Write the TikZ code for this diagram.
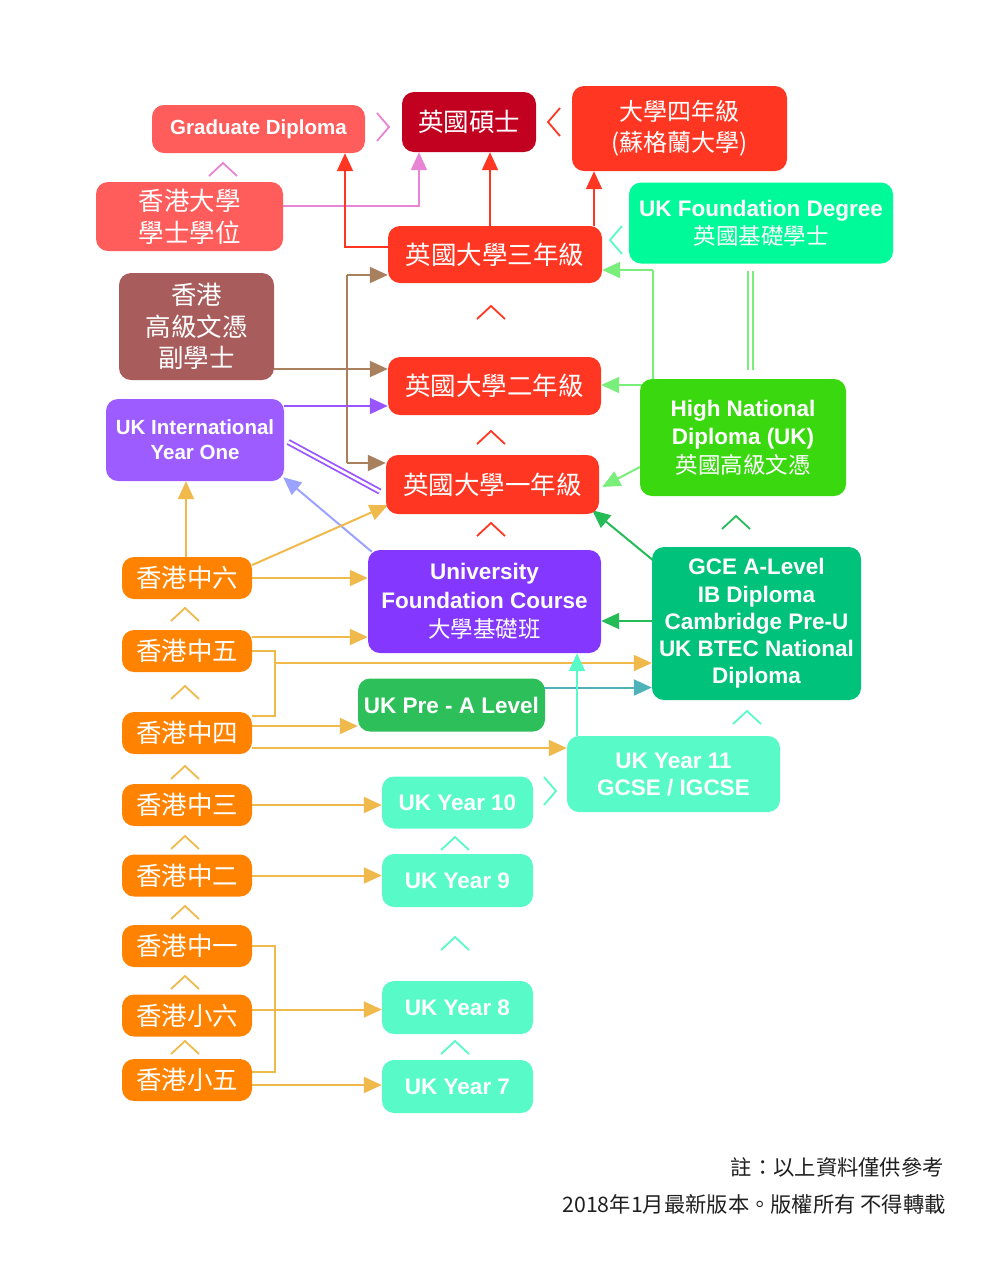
\documentclass[tikz,border=0pt]{standalone}
\usepackage{fontspec}
\setmainfont{Liberation Sans}
\newfontfamily\cjk{Noto Sans CJK TC}
\usetikzlibrary{arrows.meta}
\definecolor{cGD}{HTML}{FF5C5C}
\definecolor{cMS}{HTML}{C2001F}
\definecolor{cRD}{HTML}{FF3622}
\definecolor{cFD}{HTML}{00FA9A}
\definecolor{cHK}{HTML}{A85C5C}
\definecolor{cIY}{HTML}{9D5CFF}
\definecolor{cHN}{HTML}{3AD80F}
\definecolor{cUF}{HTML}{8438FF}
\definecolor{cGC}{HTML}{00C27A}
\definecolor{cPA}{HTML}{2DBF5A}
\definecolor{cMT}{HTML}{58FBC8}
\definecolor{cOR}{HTML}{FF8300}
\definecolor{lOR}{HTML}{F0B94B}
\definecolor{lPK}{HTML}{E884D4}
\definecolor{lBR}{HTML}{A8805E}
\definecolor{lPU}{HTML}{9955FF}
\definecolor{lLV}{HTML}{9AA3FF}
\definecolor{lTL}{HTML}{4DB3B8}
\definecolor{lGN}{HTML}{24BC57}
\definecolor{lLG}{HTML}{7AEE7A}
\newcommand\zhs[1]{{\cjk\mdseries #1}}
\newcommand\ENf[2]{\fontsize{#1}{#2}\selectfont\bfseries}
\newcommand\ZHf[2]{\fontsize{#1}{#2}\selectfont\cjk}
\newcommand\upch[3]{\draw[#3,line width=1.8pt] (#1-14,#2+13) -- (#1,#2) -- (#1+14,#2+13);}
\newcommand\rtch[3]{\draw[#3,line width=1.8pt] (#1-12,#2-14) -- (#1,#2) -- (#1-12,#2+14);}
\newcommand\ltch[3]{\draw[#3,line width=1.8pt] (#1+12,#2-14) -- (#1,#2) -- (#1+12,#2+14);}
\pgfdeclarelayer{bg}
\pgfsetlayers{bg,main}
\begin{document}
\begin{tikzpicture}[x=1pt,y=-1pt,
  bx/.style n args={3}{fill=#1, minimum width=#2, minimum height=#3, rounded corners=12pt, inner sep=0pt, align=center, text=white},
  cn/.style={line width=2pt, color=#1},
  ca/.style={line width=2pt, color=#1, -{Triangle[length=18pt,width=16pt]}},
  dbl/.style={draw=#1, line width=1.8pt, double=white, double distance=2.6pt}]
\useasboundingbox (0,0) rectangle (985,1262);

% boxes
\node[bx={cGD}{213}{48}, font=\ENf{20.5}{25}] (gd) at (258.5,129) {Graduate Diploma};
\node[bx={cMS}{134}{60}, font=\ZHf{25.5}{32}] (ms) at (469,122) {英國碩士};
\node[bx={cRD}{215}{85}, font=\ZHf{24}{31}] (y4) at (679.5,128.5) {大學四年級\\(蘇格蘭大學)};
\node[bx={cGD}{187}{69}, font=\ZHf{25.5}{32}] (hkd) at (189.5,216.5) {香港大學\\學士學位};
\node[bx={cRD}{214}{57}, font=\ZHf{25.5}{32}] (y3) at (495,254.5) {英國大學三年級};
\node[bx={cFD}{264}{81}, font=\ENf{22.5}{28}] (ukfd) at (761,223) {UK Foundation Degree\\\zhs{英國基礎學士}};
\node[bx={cHK}{155}{107}, font=\ZHf{25.5}{31.5}] (hkhd) at (196.5,326.5) {香港\\高級文憑\\副學士};
\node[bx={cRD}{213}{58}, font=\ZHf{25.5}{32}] (y2) at (494.5,386) {英國大學二年級};
\node[bx={cIY}{178}{82}, font=\ENf{20.5}{25}] (ukiyo) at (195,440) {UK International\\Year One};
\node[bx={cHN}{206}{117}, font=\ENf{22.5}{28.5}] (hnd) at (743,437.5) {High National\\Diploma (UK)\\\zhs{英國高級文憑}};
\node[bx={cRD}{213}{59}, font=\ZHf{25.5}{32}] (y1) at (492.5,484.5) {英國大學一年級};
\node[bx={cUF}{233}{103}, font=\ENf{22.5}{29}] (ufc) at (484.5,601.5) {University\\Foundation Course\\\zhs{大學基礎班}};
\node[bx={cGC}{209}{153}, font=\ENf{22.5}{27.3}] (gce) at (756.5,623.5) {GCE A-Level\\IB Diploma\\Cambridge Pre-U\\UK BTEC National\\Diploma};
\node[bx={cPA}{187}{53}, font=\ENf{22.5}{27}] (prea) at (451.5,705) {UK Pre - A Level};
\node[bx={cMT}{213}{76}, font=\ENf{22.5}{27}] (yr11) at (673.5,774) {UK Year 11\\GCSE / IGCSE};
\node[bx={cMT}{151}{52}, font=\ENf{22.5}{27}] (yr10) at (457.5,802.5) {UK Year 10};
\node[bx={cMT}{151}{53}, font=\ENf{22.5}{27}] (yr9) at (457.5,880.5) {UK Year 9};
\node[bx={cMT}{151}{53}, font=\ENf{22.5}{27}] (yr8) at (457.5,1007.5) {UK Year 8};
\node[bx={cMT}{151}{53}, font=\ENf{22.5}{27}] (yr7) at (457.5,1086.5) {UK Year 7};
\node[bx={cOR}{130}{42}, font=\ZHf{25.5}{32}] (c6) at (187,578) {香港中六};
\node[bx={cOR}{130}{42}, font=\ZHf{25.5}{32}] (c5) at (187,651) {香港中五};
\node[bx={cOR}{130}{42}, font=\ZHf{25.5}{32}] (c4) at (187,733) {香港中四};
\node[bx={cOR}{130}{42}, font=\ZHf{25.5}{32}] (c3) at (187,805) {香港中三};
\node[bx={cOR}{130}{42}, font=\ZHf{25.5}{32}] (c2) at (187,875.5) {香港中二};
\node[bx={cOR}{130}{42}, font=\ZHf{25.5}{32}] (c1) at (187,946) {香港中一};
\node[bx={cOR}{130}{42}, font=\ZHf{25.5}{32}] (s6) at (187,1015.5) {香港小六};
\node[bx={cOR}{130}{42}, font=\ZHf{25.5}{32}] (s5) at (187,1080) {香港小五};

% footnote
\node[anchor=east, inner sep=0pt, text=black!88, font=\ZHf{21.3}{26}] (n1) at (944,1167) {註：以上資料僅供參考};
\node[anchor=east, inner sep=0pt, text=black!88, font=\ZHf{21.3}{26}] (n2) at (946,1204) {2018年1月最新版本。版權所有 不得轉載};

% coordinates for junctions
\coordinate (bt) at (347,275);
\coordinate (bb) at (347,463);
\coordinate (ga) at (653,270);
\coordinate (gb) at (653,385);
\coordinate (ka) at (275,651);
\coordinate (kb) at (275,716);
\coordinate (kc) at (275,663);
\coordinate (ma) at (275,946);
\coordinate (mb) at (275,1072);

\begin{pgfonlayer}{bg}
% pink
\draw[ca=lPK] ([yshift=10.5pt]hkd.east) -| ([xshift=-50pt]ms.south);
% red
\draw[ca=cRD] ([yshift=7.5pt]y3.west) -| ([xshift=86.5pt]gd.south);
\draw[ca=cRD] ([xshift=-5pt]y3.north) -- ([xshift=21pt]ms.south);
\draw[ca=cRD] ([xshift=99pt]y3.north) -- ([xshift=-85.5pt]y4.south);
% brown
\draw[ca=lBR] ([yshift=-42.5pt]hkhd.east) -- ([yshift=17pt]y2.west);
\draw[cn=lBR] (bt) -- (bb);
\draw[ca=lBR] (bt) -- (y3.west |- bt);
\draw[ca=lBR] (bb) -- (y1.west |- bb);
% purple
\draw[ca=lPU] ([yshift=34pt]ukiyo.east) -- ([yshift=-20pt]y2.west);
\draw[dbl=lPU] ([shift={(4pt,-2pt)}]ukiyo.east) -- ([shift={(-6pt,-7pt)}]y1.west);
% lavender
\draw[ca=lLV] ([shift={(4pt,-2pt)}]ufc.north west) -- ([shift={(-1pt,4pt)}]ukiyo.south east);
% orange
\draw[ca=lOR] ([xshift=-1pt]c6.north) -- ([xshift=-9pt]ukiyo.south);
\draw[ca=lOR] ([yshift=13pt]c6.east) -- ([shift={(2pt,9pt)}]y1.south west);
\draw[ca=lOR] (c6.east) -- (ufc.west |- c6.east);
\draw[ca=lOR] ([yshift=14pt]c5.east) coordinate (t1) -- (ufc.west |- t1);
\draw[cn=lOR] (c5.east) -- (ka) -- (kb) -- ([yshift=17pt]c4.east);
\draw[ca=lOR] (kc) -- (gce.west |- kc);
\draw[ca=lOR] ([yshift=7pt]c4.east) coordinate (t2) -- (prea.west |- t2);
\draw[ca=lOR] ([yshift=-15pt]c4.east) coordinate (t3) -- (yr11.west |- t3);
\draw[ca=lOR] (c3.east) -- (yr10.west |- c3.east);
\draw[ca=lOR] (c2.east) -- (yr9.west |- c2.east);
\draw[cn=lOR] (c1.east) -- (ma) -- (mb) -- ([yshift=8pt]s5.east);
\draw[ca=lOR] ([yshift=6pt]s6.east) coordinate (t4) -- (yr8.west |- t4);
\draw[ca=lOR] ([yshift=-5pt]s5.east) coordinate (t5) -- (yr7.west |- t5);
% teal
\draw[ca=lTL] ([shift={(-5pt,17.5pt)}]prea.east) coordinate (t6) -- (gce.west |- t6);
% mint
\draw[ca=cMT] ([xshift=-96.5pt]yr11.north) coordinate (t7) -- (ufc.south -| t7);
% green
\draw[ca=lGN] ([yshift=2.5pt]gce.west) coordinate (t8) -- (ufc.east |- t8);
\draw[ca=lGN] ([shift={(8pt,-19pt)}]gce.north west) -- ([shift={(-7pt,4pt)}]y1.south east);
% light green
\draw[ca=lLG] ([yshift=-29.5pt]hnd.west) -- ([shift={(3pt,-2.5pt)}]y1.east);
\draw[cn=lLG] ([xshift=13pt]hnd.north west) -- (gb) -- (ga);
\draw[ca=lLG] (ga) -- (y3.east |- ga);
\draw[ca=lLG] (gb) -- (y2.east |- gb);
\draw[dbl=lLG] ([shift={(-10.5pt,-7pt)}]ukfd.south) -- ([shift={(7.5pt,9pt)}]hnd.north);
\end{pgfonlayer}

% chevrons
\upch{223}{163}{lPK}
\rtch{389}{127}{lPK}
\ltch{548}{122}{cRD}
\ltch{610}{240}{cMT}
\upch{491}{306}{cRD}
\upch{491}{431}{cRD}
\upch{491}{523}{cRD}
\upch{736}{516}{lGN}
\upch{747}{711}{cMT}
\rtch{556}{791}{cMT}
\upch{185}{608}{lOR}
\upch{185}{686}{lOR}
\upch{185}{766}{lOR}
\upch{185}{836}{lOR}
\upch{185}{906}{lOR}
\upch{185}{976}{lOR}
\upch{185}{1041}{lOR}
\upch{455}{837}{cMT}
\upch{455}{937}{cMT}
\upch{455}{1041}{cMT}
\end{tikzpicture}
\end{document}
